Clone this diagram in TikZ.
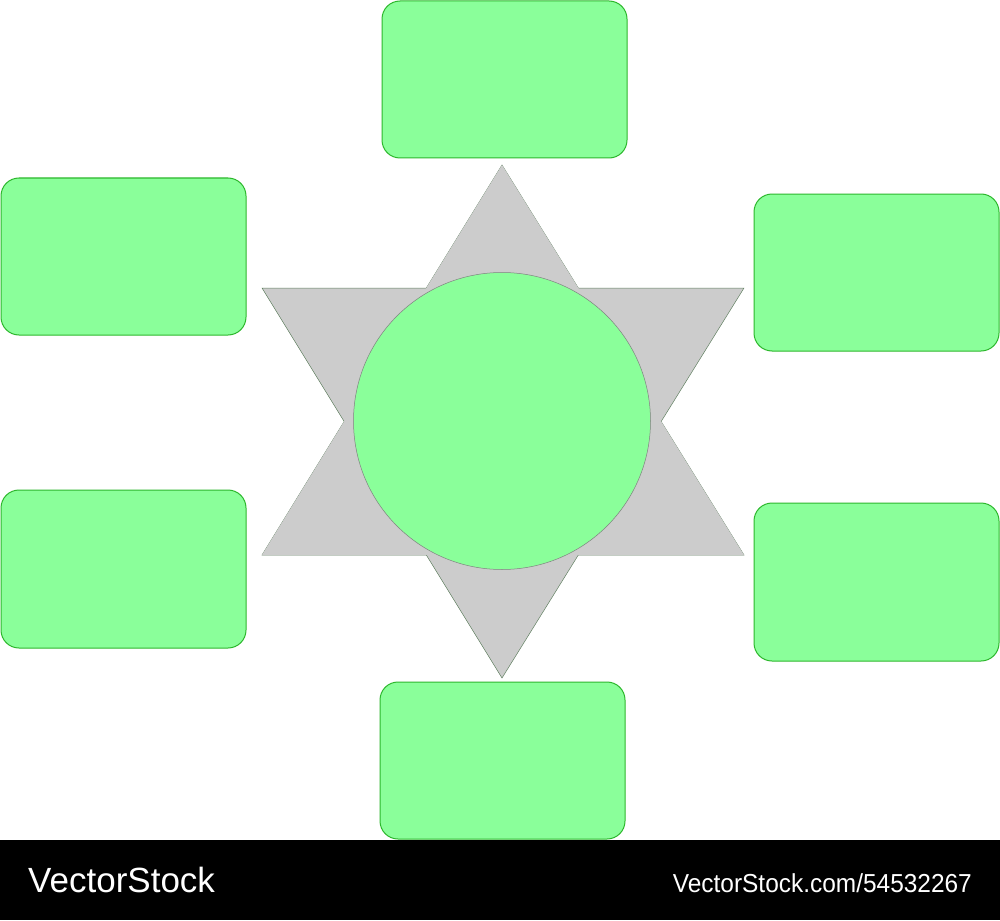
\documentclass[tikz,border=0pt]{standalone}
\usepackage{fontspec}
\setmainfont{Liberation Sans}
\begin{document}
\begin{tikzpicture}[x=1pt,y=-1pt,
  greenbox/.style={draw=boxline, line width=1pt, fill=boxgreen, rounded corners=18pt},
  startri/.style={fill=stargrey, draw=stargrey!80!green!60!black, line width=0.5pt},
  hub/.style={fill=boxgreen, draw=gray, line width=0.5pt}]
\definecolor{boxgreen}{HTML}{8AFF9A}
\definecolor{boxline}{HTML}{2DB82D}
\definecolor{stargrey}{HTML}{CCCCCC}
\useasboundingbox (0,0) rectangle (1000,920);
\fill[white] (0,0) rectangle (1000,840);
% star
\draw[startri] (502,165) -- (744,555) -- (262,555) -- cycle;
\draw[startri] (502,678) -- (744,288) -- (262,288) -- cycle;
\fill[stargrey] (502,165) -- (744,555) -- (262,555) -- cycle;
\node[hub, circle, minimum size=297pt, inner sep=0pt] (c) at (502,421) {};
% boxes
\draw[greenbox] (382,1) rectangle (627,158);
\draw[greenbox] (1,178) rectangle (246,335);
\draw[greenbox] (754,194) rectangle (999,351);
\draw[greenbox] (1,490) rectangle (246,648);
\draw[greenbox] (754,503) rectangle (999,661);
\draw[greenbox] (380,682) rectangle (625,839);
% banner
\fill[black] (0,840) rectangle (1000,920);
\node[anchor=base west, inner sep=0pt, text=white] (l) at (28,892) {\scalebox{1.0}[1]{\fontsize{35}{35}\selectfont VectorStock}};
\node[anchor=base east, inner sep=0pt, text=white] (r) at (972,892) {\scalebox{0.94}[1]{\fontsize{26}{26}\selectfont VectorStock.com/54532267}};
\end{tikzpicture}
\end{document}
